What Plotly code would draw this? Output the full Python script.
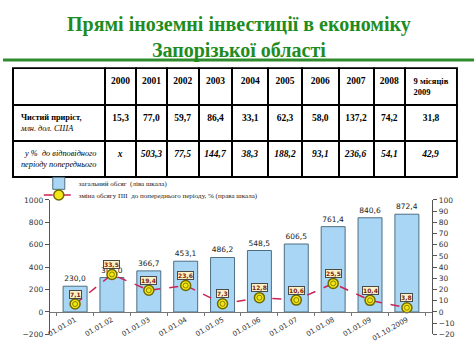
import plotly.graph_objects as go

# ---- data ----
years = ["2000", "2001", "2002", "2003", "2004", "2005", "2006", "2007", "2008", "9 місяців<br>2009"]
net_increase = [15.3, 77.0, 59.7, 86.4, 33.1, 62.3, 58.0, 137.2, 74.2, 31.8]
pct_prev = ["x", 503.3, 77.5, 144.7, 38.3, 188.2, 93.1, 236.6, 54.1, 42.9]

dates = ["01.01.01", "01.01.02", "01.01.03", "01.01.04", "01.01.05",
         "01.01.06", "01.01.07", "01.01.08", "01.01.09", "01.10.2009"]
total_volume = [230.0, 307.0, 366.7, 453.1, 486.2, 548.5, 606.5, 761.4, 840.6, 872.4]
change_pct = [7.1, 33.5, 19.4, 23.6, 7.3, 12.8, 10.6, 25.5, 10.4, 3.8]

W, H = 474, 355


def fmt(v):
    if isinstance(v, str):
        return v
    return f"{v:.1f}".replace(".", ",")


fig = go.Figure()

# ---- table ----
header_vals = [""] + [f"<b>{y}</b>" for y in years]
col0 = ["<b>Чистий приріст,</b><br><i>млн. дол. США</i>",
        "<i>  у %  до відповідного<br>періоду попереднього</i>"]
cell_cols = [col0]
for a, b in zip(net_increase, pct_prev):
    cell_cols.append([f"<b>{fmt(a)}</b>", f"<b><i>{fmt(b)}</i></b>"])

colw = [93, 31, 31, 32, 34, 36, 34, 37, 35, 32, 52]
fig.add_trace(go.Table(
    domain=dict(x=[10 / W, 457 / W], y=[0.45, 1 - 66 / H]),
    columnwidth=colw,
    header=dict(values=header_vals, height=34, align="center",
                fill_color="white", line=dict(color="black", width=2),
                font=dict(family="Liberation Serif", size=[9.5] * 10 + [8.5], color="black")),
    cells=dict(values=cell_cols, height=32,
               align=["left"] + ["center"] * 10,
               fill_color="white", line=dict(color="black", width=2),
               font=dict(family="Liberation Serif", size=[8.3] + [9.5] * 10, color="black")),
))

# ---- chart ----
fig.add_trace(go.Bar(
    x=dates, y=total_volume, name="загальний обсяг  (ліва шкала)",
    marker=dict(color="#a9d6f5", line=dict(color="#4d6f82", width=1)),
    text=[fmt(v) for v in total_volume], textposition="outside",
    textfont=dict(family="DejaVu Sans", size=7.5, color="#222"),
    cliponaxis=False, yaxis="y", xaxis="x", legend="legend",
))
fig.add_trace(go.Scatter(
    x=dates, y=change_pct, yaxis="y2", xaxis="x",
    name="зміна обсягу ПІІ  до попереднього періоду, % (права шкала)",
    mode="lines+markers",
    line=dict(color="#cc2255", width=1.5, dash="dash"),
    marker=dict(symbol="circle", size=10, color="#f4e614",
                line=dict(color="#6e6a00", width=1.5)),
    cliponaxis=False, legend="legend2",
))
fig.add_trace(go.Scatter(
    x=dates, y=change_pct, yaxis="y2", xaxis="x", mode="markers",
    marker=dict(symbol="circle-open", size=5, color="#8a8400", line=dict(width=1)),
    showlegend=False, hoverinfo="skip", cliponaxis=False,
))

for d, p in zip(dates, change_pct):
    fig.add_annotation(
        x=d, y=p, xref="x", yref="y2", text=f"<b>{fmt(p)}</b>",
        showarrow=False, yshift=10,
        font=dict(family="DejaVu Sans", size=6, color="#7a1f10"),
        bgcolor="#fdf2c6", bordercolor="#4a4a4a", borderwidth=1, borderpad=0,
    )

# title as annotation for exact placement
fig.add_annotation(
    x=0.5, y=1 - 7 / H, xref="paper", yref="paper", xanchor="center", yanchor="top",
    text="<b>Прямі іноземні інвестиції в економіку<br>Запорізької області</b>",
    showarrow=False, font=dict(family="Liberation Serif", size=20, color="#1e8c1e"),
)

ydom = [1 - 339 / H, 1 - 201 / H]
zero_pos = ydom[0] + (ydom[1] - ydom[0]) * (200 / 1200)

axis_font = dict(family="DejaVu Sans", size=7.5, color="#333")
leg_common = dict(xanchor="left", yanchor="middle", bgcolor="rgba(0,0,0,0)",
                  font=dict(family="Liberation Serif", size=7, color="#222"))
fig.update_layout(
    width=W, height=H,
    margin=dict(l=0, r=0, t=0, b=0),
    paper_bgcolor="white", plot_bgcolor="white",
    bargap=0.35,
    xaxis=dict(domain=[47 / W, 432 / W], anchor="free", position=zero_pos,
               showline=True, linecolor="#777", linewidth=1,
               ticks="outside", ticklen=3, tickcolor="#777", tickson="boundaries",
               tickangle=-30, tickfont=dict(family="DejaVu Sans", size=7, color="#333"),
               showgrid=False, zeroline=False),
    yaxis=dict(domain=ydom, range=[-200, 1000], dtick=200, anchor="x",
               showline=True, linecolor="#555", linewidth=1,
               ticks="outside", ticklen=4, tickcolor="#555",
               tickfont=axis_font, showgrid=False, zeroline=False),
    yaxis2=dict(range=[-20, 100], dtick=10, overlaying="y", side="right", anchor="x",
                showline=True, linecolor="#555", linewidth=1,
                ticks="outside", ticklen=4, tickcolor="#555",
                tickfont=axis_font, showgrid=False, zeroline=False),
    legend=dict(x=36 / W, y=1 - 184 / H, **leg_common),
    legend2=dict(x=36 / W, y=1 - 196 / H, **leg_common),
    shapes=[dict(type="line", xref="paper", yref="paper",
                 x0=0, x1=1, y0=1 - 57.5 / H, y1=1 - 57.5 / H,
                 line=dict(color="#2e8b2e", width=3))],
)

fig.write_html("out.html", config={"displayModeBar": False},
               post_script="document.body.style.margin='0';")
